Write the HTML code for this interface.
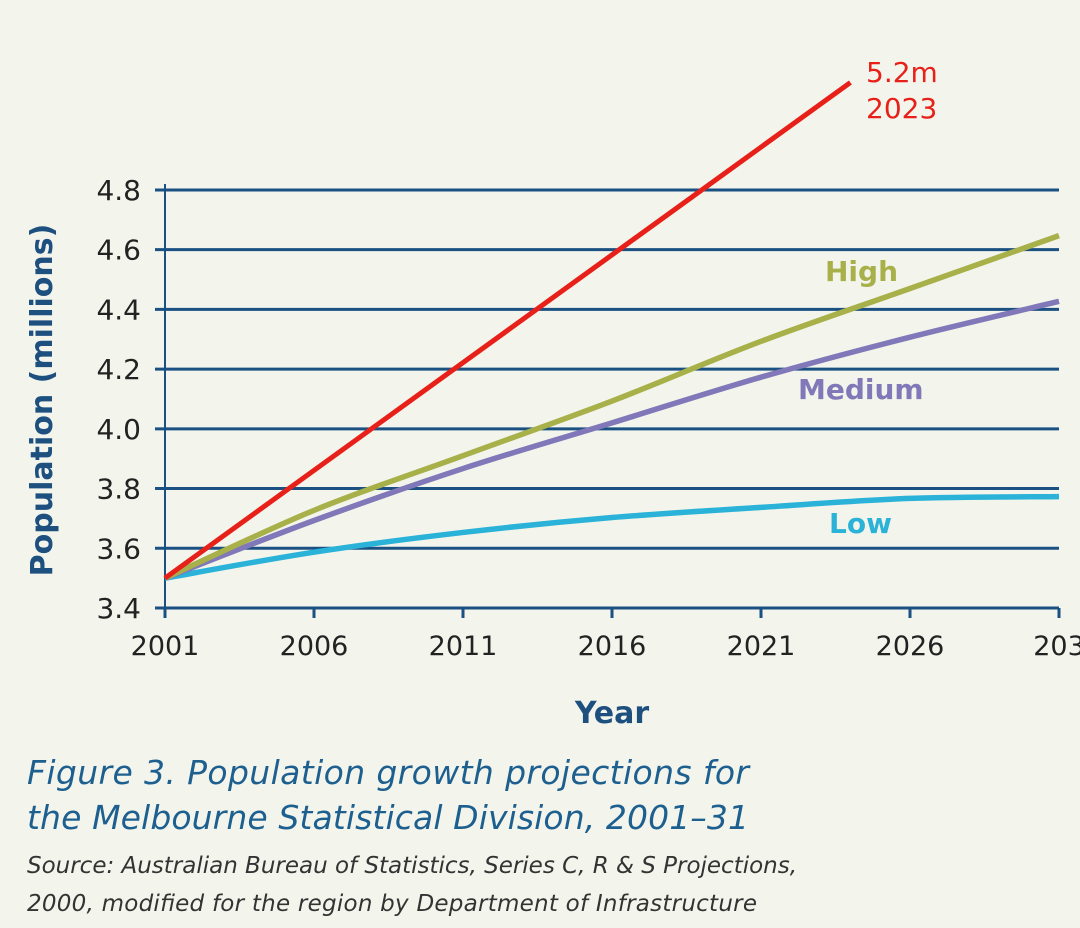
<!DOCTYPE html>
<html><head><meta charset="utf-8"><style>
body{margin:0;background:#f3f5ec;}
svg{display:block;font-family:"DejaVu Sans","Liberation Sans",sans-serif;}
</style></head><body>
<svg id="chart" width="1080" height="928">
<rect width="1080" height="928" fill="#f3f5ec"/>
<g id="grid"></g><g id="axes"></g><g id="series"></g>
<text x="52" y="400" transform="rotate(-90 52 400)" text-anchor="middle" font-size="30" font-weight="bold" fill="#1d4f7f">Population (millions)</text>
<text x="612" y="723" text-anchor="middle" font-size="30" font-weight="bold" fill="#1d4f7f">Year</text>
<text x="866" y="82" font-size="28" fill="#e8201a">5.2m</text>
<text x="866" y="118" font-size="28" fill="#e8201a">2023</text>
<text x="825" y="281" font-size="28" font-weight="bold" fill="#a8b04a">High</text>
<text x="798" y="399" font-size="28" font-weight="bold" fill="#8078b8">Medium</text>
<text x="829" y="533" font-size="28" font-weight="bold" fill="#2ab2d8">Low</text>
<text x="27" y="784" font-size="33" font-style="italic" fill="#1d5f8f" textLength="722">Figure 3. Population growth projections for</text>
<text x="27" y="829" font-size="33" font-style="italic" fill="#1d5f8f" textLength="722">the Melbourne Statistical Division, 2001–31</text>
<text x="27" y="873" font-size="23" font-style="italic" fill="#333" textLength="770">Source: Australian Bureau of Statistics, Series C, R &amp; S Projections,</text>
<text x="27" y="911" font-size="23" font-style="italic" fill="#333" textLength="730">2000, modified for the region by Department of Infrastructure</text>
</svg>
<script>
const yTicks=[3.4,3.6,3.8,4.0,4.2,4.4,4.6,4.8];
const xTicks=[2001,2006,2011,2016,2021,2026,2031];
const xTickLabels=["2001","2006","2011","2016","2021","2026","203"];
const redYears=[2001,2024];
const redValues=[3.5,5.16];
const years=[2001,2006,2011,2016,2021,2026,2031];
const highValues=[3.5,3.727,3.91,4.093,4.293,4.47,4.647];
const mediumValues=[3.5,3.693,3.867,4.02,4.173,4.307,4.427];
const lowValues=[3.5,3.587,3.653,3.703,3.737,3.767,3.773];
const NS="http://www.w3.org/2000/svg";
const x=v=>165+(v-2001)*(1059-165)/30;
const y=v=>608-(v-3.4)*298.6;
function mk(t,a,p){const e=document.createElementNS(NS,t);for(const k in a)e.setAttribute(k,a[k]);p.appendChild(e);return e;}
const grid=document.getElementById('grid'),axes=document.getElementById('axes'),ser=document.getElementById('series');
yTicks.forEach(v=>{
 const l=mk('line',{x1:155,x2:1059,y1:y(v),y2:y(v),stroke:'#1a5082','stroke-width':3},grid);
 
 
 const t=mk('text',{x:141,y:y(v)+10,'text-anchor':'end','font-size':28,fill:'#222'},axes);
 t.textContent=v.toFixed(1);
 
 
});
const ya=mk('line',{x1:165,x2:165,y1:184,y2:618,stroke:'#1a5082','stroke-width':2},axes);


xTicks.forEach((v,i)=>{
 const tk=mk('line',{x1:x(v),x2:x(v),y1:608,y2:618,stroke:'#1a5082','stroke-width':3},axes);
 
 
 const t=mk('text',{x:x(v),y:655,'text-anchor':'middle','font-size':27,fill:'#222'},axes);
 t.textContent=xTickLabels[i];
 
 
});
function smooth(xs,vs){
 const p=xs.map((a,i)=>[x(a),y(vs[i])]);
 let d='M'+p[0][0]+','+p[0][1];
 for(let i=0;i<p.length-1;i++){
  const p0=p[Math.max(0,i-1)],p1=p[i],p2=p[i+1],p3=p[Math.min(p.length-1,i+2)];
  d+=' C'+(p1[0]+(p2[0]-p0[0])/6)+','+(p1[1]+(p2[1]-p0[1])/6)+' '+(p2[0]-(p3[0]-p1[0])/6)+','+(p2[1]-(p3[1]-p1[1])/6)+' '+p2[0]+','+p2[1];
 }
 return d;
}
[[lowValues,'#2ab2d8','low-line'],[mediumValues,'#8078b8','medium-line'],[highValues,'#a8b04a','high-line']].forEach(s=>{
 const e=mk('path',{d:smooth(years,s[0]),fill:'none',stroke:s[1],'stroke-width':5.5},ser);
 
 
});
const r=mk('path',{d:'M'+x(redYears[0])+','+y(redValues[0])+' L'+x(redYears[1])+','+y(redValues[1]),stroke:'#e8201a','stroke-width':5,fill:'none'},ser);


</script>
</body></html>
